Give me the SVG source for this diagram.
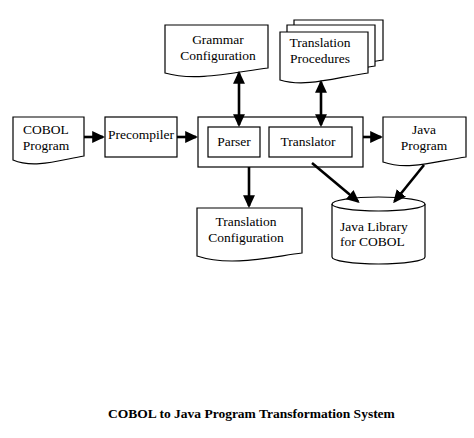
<svg xmlns="http://www.w3.org/2000/svg" width="474" height="438" viewBox="0 0 474 438">
<style>
  .shape { fill: #ffffff; stroke: #000000; stroke-width: 1.2; }
  .lbl { font-family: "Liberation Serif", "Times New Roman", serif; font-size: 13.5px; fill: #000000; text-anchor: middle; }
  .lbl-left { text-anchor: start; }
  .conn { fill: none; stroke: #000000; stroke-width: 2.6; }
  .caption { font-family: "Liberation Serif", "Times New Roman", serif; font-size: 13.5px; font-weight: bold; fill: #000000; }
</style>
<defs>
  <marker id="arrow" markerUnits="userSpaceOnUse" markerWidth="13" markerHeight="12" viewBox="0 0 12 11" refX="10" refY="5.5" orient="auto-start-reverse">
    <path d="M0,0 L12,5.5 L0,11 Z" fill="#000000"/>
  </marker>
</defs>
<rect x="0" y="0" width="474" height="438" fill="#ffffff"/>

<g id="cobol-program">
  <path class="shape" d="M13,117 H84 V156 C60,160 34,169 13,160 Z"/>
  <text class="lbl" x="46" y="134">COBOL</text>
  <text class="lbl" x="46" y="150">Program</text>
</g>

<g id="precompiler">
  <rect class="shape" x="105" y="117" width="72" height="40"/>
  <text class="lbl" x="141" y="139">Precompiler</text>
</g>

<g id="translation-system">
  <rect class="shape" x="198" y="117" width="165" height="50"/>
</g>

<g id="parser">
  <rect class="shape" x="208" y="127" width="52" height="30"/>
  <text class="lbl" x="234" y="146">Parser</text>
</g>

<g id="translator">
  <rect class="shape" x="269" y="127" width="83" height="30"/>
  <text class="lbl" x="308" y="146">Translator</text>
</g>

<g id="grammar-configuration">
  <path class="shape" d="M165,25 H268 V68 C235,72 196,82 165,73 Z"/>
  <text class="lbl" x="218" y="44">Grammar</text>
  <text class="lbl" x="218" y="60">Configuration</text>
</g>

<g id="translation-procedures">
  <path class="shape" d="M294,20 H383 V60 C352,64 321,75 294,67 Z"/>
  <path class="shape" d="M287,25 H375 V66 C344,70 313,81 287,73 Z"/>
  <path class="shape" d="M280,32 H368 V73 C337,77 306,88 280,80 Z"/>
  <text class="lbl" x="320" y="47">Translation</text>
  <text class="lbl" x="320" y="63">Procedures</text>
</g>

<g id="java-program">
  <path class="shape" d="M383,117 H466 V157 C437,161 408,171 383,162 Z"/>
  <text class="lbl" x="424" y="134">Java</text>
  <text class="lbl" x="424" y="150">Program</text>
</g>

<g id="translation-configuration">
  <path class="shape" d="M197,208 H302 V253 C270,257 230,267 197,256 Z"/>
  <text class="lbl" x="246" y="226">Translation</text>
  <text class="lbl" x="246" y="242">Configuration</text>
</g>

<g id="java-library">
  <path class="shape" d="M332,204 V257 A46.5,7 0 0 0 425,257 V204"/>
  <ellipse class="shape" cx="378.5" cy="204" rx="46.5" ry="7"/>
  <text class="lbl lbl-left" x="340" y="231">Java Library</text>
  <text class="lbl lbl-left" x="340" y="246">for COBOL</text>
</g>

<g id="connectors">
  <line class="conn" x1="84" y1="137" x2="103" y2="137" marker-end="url(#arrow)"/>
  <line class="conn" x1="177" y1="137" x2="196" y2="137" marker-end="url(#arrow)"/>
  <line class="conn" x1="239" y1="73" x2="239" y2="125" marker-start="url(#arrow)" marker-end="url(#arrow)"/>
  <line class="conn" x1="321" y1="82" x2="321" y2="125" marker-start="url(#arrow)" marker-end="url(#arrow)"/>
  <line class="conn" x1="363" y1="137" x2="381" y2="137" marker-end="url(#arrow)"/>
  <line class="conn" x1="249" y1="167" x2="249" y2="206" marker-end="url(#arrow)"/>
  <line class="conn" x1="312" y1="163" x2="358" y2="201.5" marker-end="url(#arrow)"/>
  <line class="conn" x1="424" y1="165" x2="394.5" y2="201.5" marker-end="url(#arrow)"/>
</g>

<text class="caption" x="108" y="418">COBOL to Java Program Transformation System</text>
</svg>
